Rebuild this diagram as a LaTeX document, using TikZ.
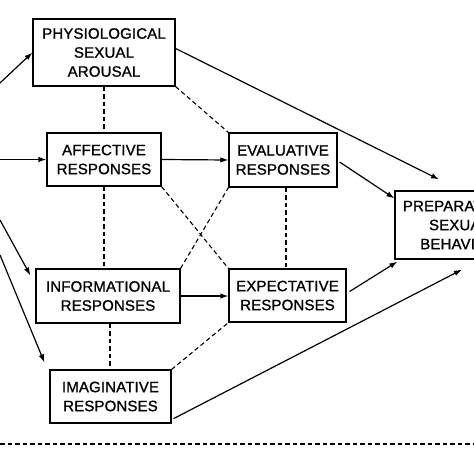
\documentclass[tikz,border=0pt]{standalone}
\usepackage{fontspec}
\setmainfont[LetterSpace=1,FakeBold=1.2]{Liberation Sans}
\usetikzlibrary{arrows.meta,calc}

\begin{document}
\begin{tikzpicture}[x=1pt,y=-1pt,>={Latex[length=8pt,width=5.5pt]},
		resp/.style={draw,line width=1.2pt,align=center,inner sep=0pt,font=\fontsize{15}{19}\selectfont},
		assoc/.style={dash pattern=on 4.5pt off 3pt,line width=1.1pt},
		infl/.style={->,line width=1.2pt}]
				\useasboundingbox (0,0) rectangle (474,474);

				% response boxes
				\node[resp,minimum width=142pt,minimum height=67pt] (phys) at (104,52.5) {PHYSIOLOGICAL\\SEXUAL\\AROUSAL};
				\node[resp,minimum width=114pt,minimum height=53pt] (aff) at (104,159.5) {AFFECTIVE\\RESPONSES};
				\node[resp,minimum width=108pt,minimum height=54pt] (eval) at (283,160) {EVALUATIVE\\RESPONSES};
				\node[resp,minimum width=144pt,minimum height=54pt] (info) at (108,296) {INFORMATIONAL\\RESPONSES};
				\node[resp,minimum width=117pt,minimum height=53pt] (expect) at (287.5,295.5) {EXPECTATIVE\\RESPONSES};
				\node[resp,minimum width=121pt,minimum height=53pt] (imag) at (110.5,396.5) {IMAGINATIVE\\RESPONSES};
				\node[resp,minimum width=128pt,minimum height=68pt] (prep) at (459,225) {PREPARATORY\\SEXUAL\\BEHAVIOR};

				% inputs from the left edge
				\coordinate (inphys) at (0,83);
				\coordinate (inaff) at (0,159.5);
				\coordinate (ininfo) at (0,220);
				\coordinate (inimag) at (0,255);
				\draw[infl] (inphys) -- (phys.west);
				\draw[infl] (inaff) -- (aff.west);
				\draw[infl] (ininfo) -- ($(info.north west)+(-5,7)$);
				\draw[infl] (inimag) -- ($(imag.north west)+(-5,-7)$);

				% influences
				\draw[infl] (aff.east) -- (eval.west);
				\draw[infl] (info.east) -- (info.east -| expect.west);
				\draw[infl] ($(phys.east)+(0,-4)$) -- ($(prep.north)+(-20,-11)$);
				\draw[infl] ($(eval.east)+(2,2)$) -- ($(prep.north west)+(0,8)$);
				\draw[infl] ($(expect.east)+(3,-4)$) -- ($(prep.south west)+(3,2)$);
				\draw[infl] ($(imag.south east)+(2,-5)$) -- ($(prep.south)+(3,10)$);

				% associations
				\draw[assoc] (phys.south) -- (aff.north);
				\draw[assoc] (phys.south east) -- (eval.north west);
				\draw[assoc] (aff.south) -- (aff.south |- info.north);
				\draw[assoc] (aff.south east) -- (expect.north west);
				\draw[assoc] (info.north east) -- (eval.south west);
				\draw[assoc] ($(eval.south)+(3,0)$) -- ($(eval.south |- expect.north)+(3,0)$);
				\draw[assoc] ($(info.south)+(2,0)$) -- ($(info.south |- imag.north)+(2,0)$);
				\draw[assoc] (imag.north east) -- (expect.south west);

				\draw[assoc] (0,444) -- (474,444);
			\end{tikzpicture}
\end{document}
